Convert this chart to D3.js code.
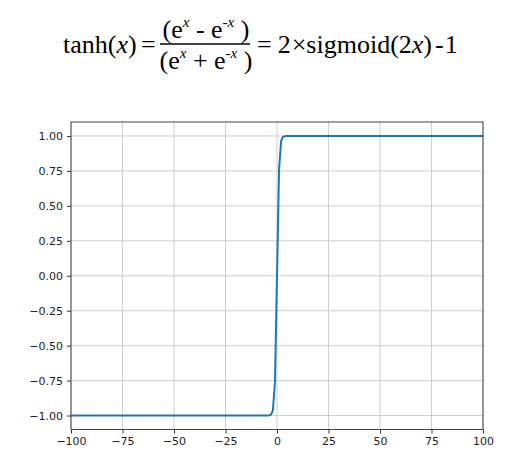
<!DOCTYPE html>
<html>
<head>
<meta charset="utf-8">
<script src="https://cdn.jsdelivr.net/npm/d3@7"></script>
<style>
  body { margin: 0; background: #fff; }
  svg { display: block; }
</style>
</head>
<body>
<svg id="chart" width="506" height="463"></svg>
<script>
// curve
var xValues = [-100, -4, -3, -2, -1, 0, 1, 2, 3, 4, 100]
var yValues = [-1, -0.999, -0.995, -0.964, -0.762, 0, 0.762, 0.964, 0.995, 0.999, 1]
var xTicks = [-100, -75, -50, -25, 0, 25, 50, 75, 100]
var yTicks = [-1, -0.75, -0.5, -0.25, 0, 0.25, 0.5, 0.75, 1]

var svg = d3.select("#chart")
var plotLeft = 71, plotRight = 483, plotTop = 122, plotBottom = 429.5

// formula on top
var serif = "'Liberation Serif', 'Times New Roman', serif"
var f = svg.append("g").attr("font-family", serif).attr("fill", "#000").attr("font-size", 26)

var t1 = f.append("text").attr("x", 63).attr("y", 53)
t1.append("tspan").text("tanh(")
t1.append("tspan").attr("font-style", "italic").text("x")
t1.append("tspan").text(")")
f.append("text").attr("x", 141).attr("y", 53).text("=")

f.append("line").attr("x1", 160).attr("x2", 250).attr("y1", 44).attr("y2", 44)
  .attr("stroke", "#000").attr("stroke-width", 1.3)

function fracPart(y, op) {
  var t = f.append("text").attr("x", 206).attr("y", y).attr("text-anchor", "middle")
  t.append("tspan").text("(e")
  t.append("tspan").attr("font-size", 15).attr("font-style", "italic").attr("dy", -11).text("x")
  t.append("tspan").attr("dy", 11).text(op + "e")
  t.append("tspan").attr("font-size", 15).attr("dy", -11).text("-")
  t.append("tspan").attr("font-size", 15).attr("font-style", "italic").text("x")
  t.append("tspan").attr("dy", 11).text(" )")
}
fracPart(38, " - ")
fracPart(69, " + ")

var t2 = f.append("text").attr("x", 257).attr("y", 53)
t2.append("tspan").text("=")
t2.append("tspan").attr("dx", 6).text("2")
t2.append("tspan").attr("dx", 1).text("×")
t2.append("tspan").text("sigmoid(2")
t2.append("tspan").attr("font-style", "italic").text("x")
t2.append("tspan").text(")")
t2.append("tspan").attr("dx", 3).text("-")
t2.append("tspan").attr("dx", 1).text("1")

// plot
var x = d3.scaleLinear().domain([-100, 100]).range([plotLeft, plotRight])
var y = d3.scaleLinear().domain([-1.1, 1.1]).range([plotBottom, plotTop])

var grid = svg.append("g").attr("stroke", "#cfcfcf").attr("stroke-width", 1)
grid.selectAll(".gx").data(xTicks).enter().append("line")
  .attr("x1", function(d) { return x(d) }).attr("x2", function(d) { return x(d) })
  .attr("y1", plotTop).attr("y2", plotBottom)
grid.selectAll(".gy").data(yTicks).enter().append("line")
  .attr("y1", function(d) { return y(d) }).attr("y2", function(d) { return y(d) })
  .attr("x1", plotLeft).attr("x2", plotRight)

var pts = xValues.map(function(d, i) { return [d, yValues[i]] })
svg.append("path").datum(pts)
  .attr("fill", "none").attr("stroke", "#1f77b4").attr("stroke-width", 2)
  .attr("stroke-linejoin", "round")
  .attr("d", d3.line().x(function(d) { return x(d[0]) }).y(function(d) { return y(d[1]) }))

svg.append("g").attr("transform", "translate(0," + plotBottom + ")")
  .call(d3.axisBottom(x).tickValues(xTicks).tickSize(4).tickPadding(4).tickFormat(d3.format("d")))
svg.append("g").attr("transform", "translate(" + plotLeft + ",0)")
  .call(d3.axisLeft(y).tickValues(yTicks).tickSize(4).tickPadding(4).tickFormat(d3.format(".2f")))

svg.selectAll(".domain").remove()
svg.selectAll(".tick line").attr("stroke", "#333")
svg.selectAll(".tick text").attr("font-family", "'DejaVu Sans', sans-serif")
  .attr("font-size", 11).attr("fill", "#222")

svg.append("rect").attr("x", plotLeft).attr("y", plotTop)
  .attr("width", plotRight - plotLeft).attr("height", plotBottom - plotTop)
  .attr("fill", "none").attr("stroke", "#444").attr("stroke-width", 1)
</script>
</body>
</html>
